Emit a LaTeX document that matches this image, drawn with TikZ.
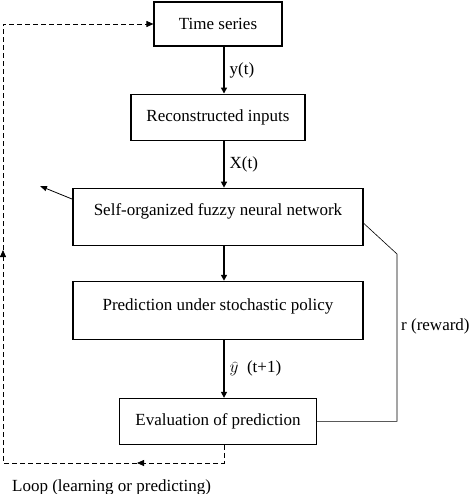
\documentclass[tikz,border=0pt]{standalone}
\usepackage{fontspec}
\setmainfont{Liberation Serif}
\usetikzlibrary{positioning, arrows.meta}

\begin{document}
\begin{tikzpicture}[x=1pt, y=-1pt,
    blk/.style={draw, line width=1.1pt, align=center, inner sep=0pt, font=\fontsize{17}{19}\selectfont},
    flow/.style={line width=1.4pt, -{Triangle[length=6pt, width=6pt]}},
    thinflow/.style={line width=0.8pt, -{Triangle[length=7pt, width=5pt]}},
    loopln/.style={line width=0.8pt, dash pattern=on 5pt off 3pt},
    lbl/.style={font=\fontsize{17}{19}\selectfont, inner sep=1pt}
  ]
  \useasboundingbox (0,0) rectangle (474,494);

  \node[blk, minimum width=128pt, minimum height=44pt] (ts) at (218,24) {Time series};
  \node[blk, minimum width=174pt, minimum height=46pt, below=47pt of ts] (rec) {Reconstructed inputs};
  \node[blk, minimum width=290pt, minimum height=57pt, text depth=14pt, below=47pt of rec] (sofnn) {Self-organized fuzzy neural network};
  \node[blk, minimum width=290pt, minimum height=58pt, text depth=12pt, below=35pt of sofnn] (pred) {Prediction under stochastic policy};
  \node[blk, minimum width=197pt, minimum height=46pt, below=58pt of pred] (eval) {Evaluation of prediction};

  % main flow
  \draw[flow] ([xshift=6pt]ts.south) -- ([xshift=6pt]rec.north) node[midway, right=4pt, lbl] (yt) {y(t)};
  \draw[flow] ([xshift=6pt]rec.south) -- ([xshift=6pt]sofnn.north) node[midway, right=4pt, lbl] (xt) {X(t)};
  \draw[flow] ([xshift=6pt]sofnn.south) -- ([xshift=6pt]pred.north);
  \draw[flow] ([xshift=6pt]pred.south) -- ([xshift=6pt]eval.north) node[midway, right=4pt, lbl] (yh) {$\widehat{y}$\enspace(t+1)};

  % output of the network
  \coordinate (out) at (40,186);
  \draw[thinflow] ([yshift=17.5pt]sofnn.west) -- (out);

  % reward
  \coordinate (rw) at (397,254);
  \draw[line width=0.6pt] ([yshift=-6.5pt]sofnn.east) -- (rw) |- (eval.east);
  \node[lbl, anchor=west] (rwd) at (400,326) {r (reward)};

  % loop
  \coordinate (lpm1) at (137,463);
  \coordinate (lpbl) at (3,463);
  \coordinate (lpm2) at (3,250);
  \coordinate (lptl) at (3,24);
  \draw[loopln, -{Triangle[length=7pt, width=6pt]}] ([xshift=6pt]eval.south) |- (lpm1);
  \draw[loopln, -{Triangle[length=7pt, width=6pt]}] (lpm1) -- (lpbl) -- (lpm2);
  \draw[loopln, -{Triangle[length=7pt, width=6pt]}] (lpm2) -- (lptl) -- (ts.west);
  \node[lbl, anchor=west] (lp) at (11,487) {Loop (learning or predicting)};

\end{tikzpicture}
\end{document}
